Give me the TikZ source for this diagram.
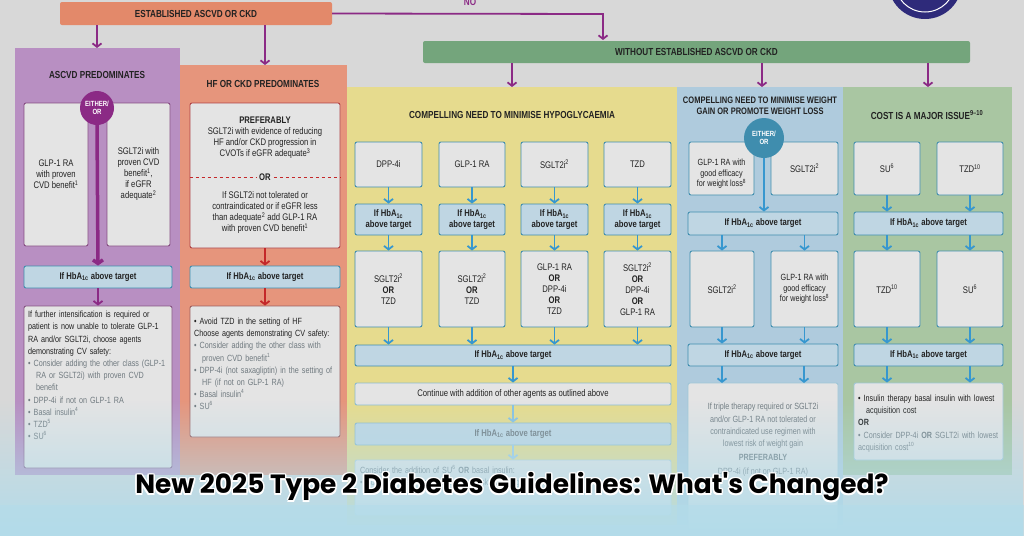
\documentclass[tikz,border=0pt]{standalone}
\usepackage{fontspec}
\setmainfont{Liberation Sans}[FakeStretch=0.8]
\newfontfamily\ttlfont{Poppins}
\usetikzlibrary{arrows.meta,fadings}
\definecolor{bg}{HTML}{D8D8D8}
\definecolor{orng}{HTML}{E3896A}
\definecolor{grn}{HTML}{74A57C}
\definecolor{purp}{HTML}{8B2A85}
\definecolor{ppan}{HTML}{B88FC2}
\definecolor{opan}{HTML}{E6957C}
\definecolor{ypan}{HTML}{E6DB8E}
\definecolor{bpan}{HTML}{AFCBDD}
\definecolor{gpan}{HTML}{A9C6A2}
\definecolor{boxf}{HTML}{E4E4E4}
\definecolor{edge}{HTML}{3F8DAE}
\definecolor{hbf}{HTML}{BFD6E3}
\definecolor{arrb}{HTML}{3797CF}
\definecolor{redd}{HTML}{C4282A}
\definecolor{navy}{HTML}{2E2A7A}
\definecolor{lblue}{HTML}{B3DCEA}
\definecolor{txt}{HTML}{222222}
\definecolor{ftxt}{HTML}{707A80}
\hyphenpenalty=10000 \exhyphenpenalty=10000
\newcommand{\hba}{HbA\textsubscript{1c}}
\newcommand{\bul}[1]{\par\hangindent=8pt\hangafter=1\textbullet\hspace{3pt}#1}
\begin{document}
\begin{tikzpicture}[x=1pt,y=-1pt,
  every node/.style={font=\fontsize{9.6}{11}\selectfont, text=txt, inner sep=2pt},
  bx/.style={draw=edge, line width=0.9pt, fill=boxf, rounded corners=2pt, align=center},
  hb/.style={draw=edge, line width=0.9pt, fill=hbf, rounded corners=2pt, align=center, font=\fontsize{9.6}{10.6}\selectfont\bfseries},
  ttl/.style={font=\fontsize{10.2}{11.5}\selectfont\bfseries, align=center},
  sm/.style={font=\fontsize{9}{12.2}\selectfont},
  arr/.style={draw=arrb, line width=1.8pt, -{Straight Barb[length=3.5pt,width=9pt]}},
  parr/.style={draw=purp, line width=1.8pt, -{Straight Barb[length=3.5pt,width=9pt]}},
  rarr/.style={draw=redd, line width=1.8pt, -{Straight Barb[length=3.5pt,width=9pt]}},
  eo/.style={circle, minimum size=#1, inner sep=0pt, align=center, font=\fontsize{7.5}{8}\selectfont\bfseries},
  big/.style={font=\ttlfont\fontsize{26.4}{30}\selectfont\bfseries}
]
\newcommand{\B}[7]{\node[#6, minimum width={(#4-#2)*1pt}, minimum height={(#5-#3)*1pt}] (#1) at ({(#2+#4)/2},{(#3+#5)/2}) {#7};}
\useasboundingbox (0,0) rectangle (1024,536);
\fill[bg] (0,0) rectangle (1024,536);
% top
\fill[navy] (925,-18) circle (37);
\draw[white, line width=1pt] (925,-18) circle (30);
\B{est}{60}{2}{332}{25}{fill=orng, rounded corners=2pt, font=\fontsize{10.2}{11}\selectfont\bfseries}{ESTABLISHED ASCVD OR CKD}
\node[font=\fontsize{10.2}{11}\selectfont\bfseries, text=purp, anchor=north] (no) at (470,-4) {NO};
\B{without}{423}{41}{970}{63}{fill=grn, rounded corners=2pt, font=\fontsize{10.2}{11}\selectfont\bfseries}{WITHOUT ESTABLISHED ASCVD OR CKD}
\draw[parr] (est.east) -- (603,14) -- (603,40);
% panels
\fill[ppan] (15,48) rectangle (180,475);
\fill[opan] (180,65) rectangle (347,475);
\fill[ypan] (347,87) rectangle (677,525);
\fill[bpan] (677,87) rectangle (843,525);
\fill[gpan] (843,87) rectangle (1012,475);
\coordinate (pA) at (97,48); \coordinate (pB) at (265,65);
\draw[parr] (est.south -| pA) -- (pA);
\draw[parr] (est.south -| pB) -- (pB);
\coordinate (pC) at (512,87); \coordinate (pD) at (762,87); \coordinate (pE) at (928,87);
\draw[parr] (without.south -| pC) -- (pC);
\draw[parr] (without.south -| pD) -- (pD);
\draw[parr] (without.south -| pE) -- (pE);
% ASCVD
\node[ttl] (t1) at (97,75) {ASCVD PREDOMINATES};
\B{a1}{24}{103}{88}{246}{bx, draw=purp!60!gray}{GLP-1 RA\\with proven\\CVD benefit\textsuperscript{1}}
\B{a2}{107}{103}{170}{246}{bx, draw=purp!60!gray}{SGLT2i with\\proven CVD\\benefit\textsuperscript{1},\\if eGFR\\adequate\textsuperscript{2}}
\B{ah}{24}{266}{172}{288}{hb}{If \hba{} above target}
\node[eo=34pt, fill=purp, text=white] (aeo) at (97,108) {EITHER/\\OR};
\draw[draw=purp, line width=3.5pt, -{Straight Barb[length=3.5pt,width=10pt]}] (aeo.south) -- (ah.north);
\B{at}{24}{306}{172}{468}{bx, draw=purp!50!gray}{}
\node[sm, anchor=north west, align=left, text width=140pt] (atx) at (26,309) {If further intensification is required or patient is now unable to tolerate GLP-1 RA and/or SGLT2i, choose agents demonstrating CV safety:\color{ftxt}\bul{Consider adding the other class (GLP-1 RA or SGLT2i) with proven CVD benefit}\bul{DPP-4i if not on GLP-1 RA}\bul{Basal insulin\textsuperscript{4}}\bul{TZD\textsuperscript{5}}\bul{SU\textsuperscript{6}}};
\draw[parr] (ah.south) -- (at.north);
% HF
\node[ttl] (t2) at (263,84) {HF OR CKD PREDOMINATES};
\B{h1}{190}{103}{340}{248}{bx, draw=redd!70!gray}{}
\node[align=center] (h1a) at (265,138) {\textbf{PREFERABLY}\\SGLT2i with evidence of reducing\\HF and/or CKD progression in\\CVOTs if eGFR adequate\textsuperscript{3}};
\node[font=\fontsize{9.6}{10}\selectfont\bfseries, fill=boxf, inner sep=3pt] (hor) at (265,177) {OR};
\draw[redd, dashed, line width=0.8pt] (h1.west |- hor) -- (hor.west) (hor.east) -- (h1.east |- hor);
\node[align=center] (h1b) at (265,213) {If SGLT2i not tolerated or\\contraindicated or if eGFR less\\than adequate\textsuperscript{2} add GLP-1 RA\\with proven CVD benefit\textsuperscript{1}};
\B{hh}{190}{266}{340}{288}{hb}{If \hba{} above target}
\B{ht}{190}{306}{340}{437}{bx, draw=redd!40!gray}{}
\node[sm, anchor=north west, align=left, text width=144pt] (htx) at (192,310) {\bul{Avoid TZD in the setting of HF}\par Choose agents demonstrating CV safety:\color{ftxt}\bul{Consider adding the other class with proven CVD benefit\textsuperscript{1}}\bul{DPP-4i (not saxagliptin) in the setting of HF (if not on GLP-1 RA)}\bul{Basal insulin\textsuperscript{4}}\bul{SU\textsuperscript{6}}};
\draw[rarr] (h1.south) -- (hh.north);
\draw[rarr] (hh.south) -- (ht.north);
% yellow
\node[ttl] (t3) at (512,115) {COMPELLING NEED TO MINIMISE HYPOGLYCAEMIA};
\B{y1}{355}{142}{422}{187}{bx}{DPP-4i}
\B{y2}{439}{142}{505}{187}{bx}{GLP-1 RA}
\B{y3}{521}{142}{588}{187}{bx}{SGLT2i\textsuperscript{2}}
\B{y4}{604}{142}{671}{187}{bx}{TZD}
\B{yh1}{355}{204}{422}{235}{hb}{If \hba\\above target}
\B{yh2}{439}{204}{505}{235}{hb}{If \hba\\above target}
\B{yh3}{521}{204}{588}{235}{hb}{If \hba\\above target}
\B{yh4}{604}{204}{671}{235}{hb}{If \hba\\above target}
\B{yr1}{355}{251}{422}{327}{bx}{SGLT2i\textsuperscript{2}\\\textbf{OR}\\TZD}
\B{yr2}{439}{251}{505}{327}{bx}{SGLT2i\textsuperscript{2}\\\textbf{OR}\\TZD}
\B{yr3}{521}{251}{588}{327}{bx}{GLP-1 RA\\\textbf{OR}\\DPP-4i\\\textbf{OR}\\TZD}
\B{yr4}{604}{251}{671}{327}{bx}{SGLT2i\textsuperscript{2}\\\textbf{OR}\\DPP-4i\\\textbf{OR}\\GLP-1 RA}
\B{yw1}{355}{345}{671}{366}{hb}{If \hba{} above target}
\B{yc}{355}{383}{671}{405}{bx, draw=edge!60!white}{Continue with addition of other agents as outlined above}
\B{yw2}{355}{423}{671}{445}{hb, draw=edge!60!white, text=ftxt}{If \hba{} above target}
\B{yl}{355}{460}{671}{515}{bx, draw=edge!40!white}{}
\node[sm, anchor=north west, align=left, text width=305pt, text=ftxt] (ylx) at (358,463) {Consider the addition of SU\textsuperscript{6} \textbf{OR} basal insulin:\bul{Consider basal insulin with lower risk of hypoglycaemia\textsuperscript{7}}};
\foreach \i in {1,2,3,4}{
  \draw[arr] (y\i.south) -- (yh\i.north);
  \draw[arr] (yh\i.south) -- (yr\i.north);
  \draw[arr] (yr\i.south) -- (yw1.north -| yr\i.south);
}
\draw[arr] (yw1.south) -- (yc.north);
\draw[arr, draw=arrb!60!white] (yc.south) -- (yw2.north);
\draw[arr, draw=arrb!50!white] (yw2.south) -- (yl.north);
% blue
\node[ttl, font=\fontsize{9.4}{11}\selectfont\bfseries] (t4) at (760,106) {COMPELLING NEED TO MINIMISE WEIGHT\\GAIN OR PROMOTE WEIGHT LOSS};
\B{b1}{689}{142}{754}{195}{bx}{}
\node[align=center, font=\fontsize{9}{10.5}\selectfont] (b1x) at (721.5,174) {GLP-1 RA with\\good efficacy\\for weight loss\textsuperscript{8}};
\B{b2}{771}{142}{838}{195}{bx}{SGLT2i\textsuperscript{2}}
\B{bh1}{688}{212}{838}{235}{hb}{If \hba{} above target}
\node[eo=40pt, fill=edge, text=white] (beo) at (764,138) {EITHER/\\OR};
\draw[arr] (beo.south) -- (bh1.north -| beo.south);
\B{br1}{690}{251}{754}{327}{bx}{SGLT2i\textsuperscript{2}}
\B{br2}{771}{251}{838}{327}{bx, font=\fontsize{9}{10.5}\selectfont}{GLP-1 RA with\\good efficacy\\for weight loss\textsuperscript{8}}
\B{bh2}{688}{344}{838}{366}{hb}{If \hba{} above target}
\B{bt}{688}{383}{838}{530}{bx, draw=edge!50!white}{}
\node[sm, align=center, text=ftxt] (btt) at (763,440) {If triple therapy required or SGLT2i\\and/or GLP-1 RA not tolerated or\\contraindicated use regimen with\\lowest risk of weight gain\\[2pt]\textbf{PREFERABLY}\\[2pt]DPP-4i (if not on GLP-1 RA)};
\draw[arr] (bh1.south -| br1.north) -- (br1.north);
\draw[arr] (bh1.south -| br2.north) -- (br2.north);
\draw[arr] (br1.south) -- (bh2.north -| br1.south);
\draw[arr] (br2.south) -- (bh2.north -| br2.south);
\coordinate (bq1) at (722,383); \coordinate (bq2) at (804,383);
\draw[arr] (bh2.south -| bq1) -- (bq1);
\draw[arr] (bh2.south -| bq2) -- (bq2);
% green
\node[ttl] (t5) at (927,115) {COST IS A MAJOR ISSUE\textsuperscript{9--10}};
\B{g1}{854}{142}{920}{195}{bx}{SU\textsuperscript{6}}
\B{g2}{937}{142}{1003}{195}{bx}{TZD\textsuperscript{10}}
\B{gh1}{854}{212}{1003}{235}{hb}{If \hba{} above target}
\B{gr1}{854}{251}{920}{327}{bx}{TZD\textsuperscript{10}}
\B{gr2}{937}{251}{1003}{327}{bx}{SU\textsuperscript{6}}
\B{gh2}{854}{344}{1003}{366}{hb}{If \hba{} above target}
\B{gt}{854}{383}{1003}{460}{bx, draw=edge!50!white}{}
\node[sm, anchor=north west, align=left, text width=142pt] (gtx) at (856,387) {\bul{Insulin therapy basal insulin with lowest acquisition cost}\par\textbf{OR}\color{ftxt}\bul{Consider DPP-4i \textbf{OR} SGLT2i with lowest acquisition cost\textsuperscript{10}}};
\draw[arr] (g1.south) -- (gh1.north -| g1.south);
\draw[arr] (g2.south) -- (gh1.north -| g2.south);
\draw[arr] (gh1.south -| gr1.north) -- (gr1.north);
\draw[arr] (gh1.south -| gr2.north) -- (gr2.north);
\draw[arr] (gr1.south) -- (gh2.north -| gr1.south);
\draw[arr] (gr2.south) -- (gh2.north -| gr2.south);
\draw[arr] (gh2.south -| gr1.south) -- (gt.north -| gr1.south);
\draw[arr] (gh2.south -| gr2.south) -- (gt.north -| gr2.south);
% haze
\fill[lblue, path fading=north] (0,400) rectangle (1024,536);
\fill[lblue, opacity=0.6] (0,505) rectangle (1024,536);
% overlay title (white outline then black)
\foreach \dx/\dy in {-1.6/0,1.6/0,0/-1.6,0/1.6,-1.1/-1.1,1.1/1.1,-1.1/1.1,1.1/-1.1}
  \node[big, text=white] at (512+\dx,487+\dy) {New 2025 Type 2 Diabetes Guidelines: What's Changed?};
\node[big, text=black] (ovl) at (512,487) {New 2025 Type 2 Diabetes Guidelines: What's Changed?};
\end{tikzpicture}
\end{document}
